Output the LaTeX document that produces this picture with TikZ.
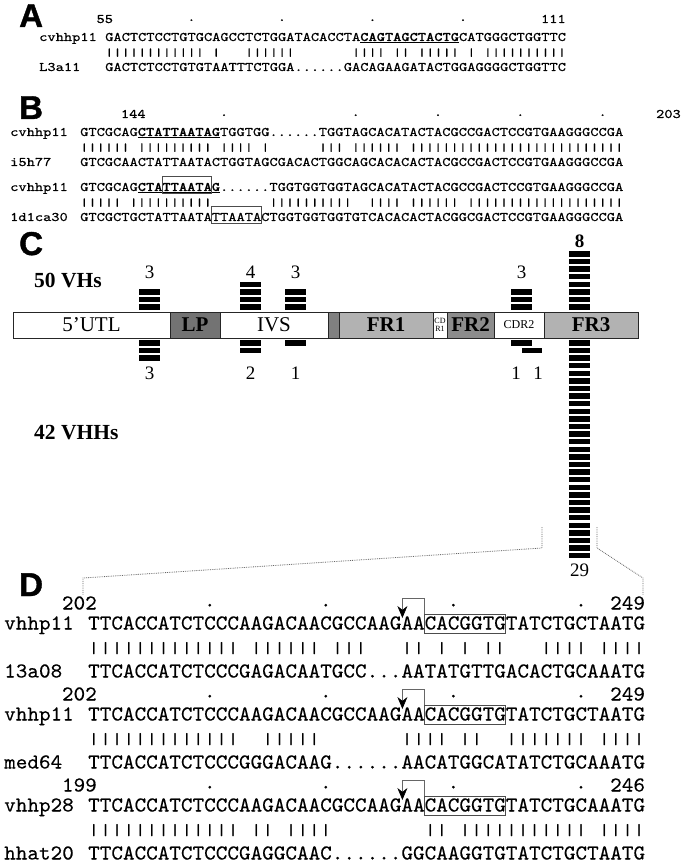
\documentclass[tikz,border=0pt]{standalone}
\usepackage{fontspec}
\setmainfont{Liberation Serif}
\newfontfamily\panelfont{Liberation Sans}[BoldFeatures={FakeBold=1.2}]
\newfontfamily\seqab{lmmono10-regular.otf}[FakeStretch=1.2,FakeBold=0.6,BoldFont=lmmonolt10-bold.otf]
\newfontfamily\barab{lmmono10-regular.otf}[FakeStretch=1.425,FakeBold=0.6]
\newfontfamily\seqd{lmmono10-regular.otf}[FakeStretch=1.04,FakeBold=0.3]
\newfontfamily\bard{lmmono10-regular.otf}[FakeStretch=1.381]
\usetikzlibrary{arrows.meta}

% bold stretch with a thick underline, same pitch as the mono text
\newcommand{\ulb}[1]{\setbox0\hbox{\bfseries #1}\rlap{\rule[-2.4pt]{\wd0}{1.2pt}}\box0}

\tikzset{
  panel/.style ={anchor=base west, inner sep=0pt, font=\panelfont\bfseries\fontsize{33}{33}\selectfont},
  nm/.style    ={anchor=base west, inner sep=0pt, font=\seqab\fontsize{13.06}{14}\selectfont},
  nmb/.style   ={anchor=base, inner sep=0pt, font=\seqab\fontsize{13.06}{14}\selectfont},
  hits/.style  ={anchor=base west, inner sep=0pt, font=\barab\fontsize{11}{12}\selectfont},
  nmD/.style   ={anchor=base west, inner sep=0pt, font=\seqd\fontsize{21.25}{22}\selectfont},
  nmbD/.style  ={anchor=base, inner sep=0pt, font=\seqd\fontsize{21.25}{22}\selectfont},
  hitsD/.style ={anchor=base west, inner sep=0pt, font=\bard\fontsize{16}{16}\selectfont},
  motif/.style ={draw=black!70, line width=0.6pt, inner sep=0pt, outer sep=0pt, anchor=north west},
  jump/.style  ={draw=black!60, line width=0.7pt, -{Stealth[length=12pt,width=10pt,black]}},
  gene/.style  ={draw=black!85, line width=0.5pt, inner sep=0pt, outer sep=0pt, anchor=north west,
                 minimum height=26, font=\fontsize{21}{21}\selectfont},
  geneb/.style ={gene, font=\bfseries\fontsize{21}{21}\selectfont},
  cnt/.style   ={inner sep=0pt, font=\fontsize{19}{19}\selectfont},
  vh/.style    ={anchor=west, inner sep=0pt, font=\bfseries\fontsize{21.5}{22}\selectfont},
  cntbar/.style={fill=black},
  brk/.style   ={draw=black!60, densely dotted, line width=0.8pt},
}

\begin{document}
\begin{tikzpicture}[x=1pt, y=-1pt]
\fill[white] (0,0) rectangle (685,866);
\useasboundingbox (0,0) rectangle (685,866);
% ---- A: leader region
\node[panel] (letA) at (19,27) {A};
\node[nmb, anchor=base east] (numA1) at (113.2,23) {55};
\foreach \c in {11,22,33,44}
  \node[nmb] (dotA\c) at ({105+(\c-0.5)*8.23},21) {.};
\node[nmb, anchor=base east] (numA2) at (565.9,23) {111};
\node[nm] (nameA1) at (39,41) {cvhhp11};
\node[nm] (seqA1) at (105,41) {GACTCTCCTGTGCAGCCTCTGGATACACCTA\ulb{CAGTAGCTACTG}CATGGGCTGGTTC};
\node[hits] (hitA) at (105,56) {||||||||||||~|~~~||||||~~~~~~~||||~||~|||||~|~||||||||||};
\node[nm] (nameA2) at (39,71) {L3a11};
\node[nm] (seqA2) at (105,71) {GACTCTCCTGTGTAATTTCTGGA......GACAGAAGATACTGGAGGGGCTGGTTC};
% ---- B: intron region
\node[panel] (letB) at (19,119) {B};
\node[nmb, anchor=base east] (numB1) at (145.8,118) {144};
\foreach \c in {18,34,44,54,64}
  \node[nmb] (dotB\c) at ({80+(\c-0.5)*8.23},116) {.};
\node[nmb, anchor=base east] (numB2) at (681,118) {203};
\node[nm] (nameB1) at (10,136) {cvhhp11};
\node[nm] (seqB1) at (80,136) {GTCGCAG\ulb{CTATTAATAG}TGGTGG......TGGTAGCACATACTACGCCGACTCCGTGAAGGGCCGA};
\node[hits] (hitB1) at (80,151) {||||||~|||||||||~||||~|~~~~~~|||~||||||~||||||||||||||||||||||||||};
\node[nm] (nameB2) at (10,166) {i5h77};
\node[nm] (seqB2) at (80,166) {GTCGCAACTATTAATACTGGTAGCGACACTGGCAGCACACACTACGCCGACTCCGTGAAGGGCCGA};
\node[nm] (nameB3) at (10,191) {cvhhp11};
\node[nm] (seqB3) at (80,191) {GTCGCAG\ulb{CTATTAATAG}......TGGTGGTGGTAGCACATACTACGCCGACTCCGTGAAGGGCCGA};
\node[hits] (hitB2) at (80,206) {|||||~||||||||||~~~~~~~||||||||||~~||||~||||||~|||||||||||||||||||};
\node[nm] (nameB4) at (10,221) {1d1ca30};
\node[nm] (seqB4) at (80,221) {GTCGCTGCTATTAATATTAATACTGGTGGTGGTGTCACACACTACGGCGACTCCGTGAAGGGCCGA};
\node[motif, minimum width=49.4, minimum height=17] (boxB1) at (162.3,176) {};
\node[motif, minimum width=49.4, minimum height=17] (boxB2) at (211.7,206) {};
% ---- C: gene map + hit counts
\node[panel] (letC) at (19,255) {C};
\node[vh] (vhs) at (34,281) {50 VHs};
\node[vh] (vhhs) at (34,433) {42 VHHs};
\node[gene, fill=white, minimum width=157] (utl) at (13,312) {5'UTL};
\node[geneb, fill=black!55, minimum width=50] (lp) at (170,312) {LP};
\node[gene, fill=white, minimum width=108] (ivs) at (220,312) {IVS\hspace{14pt}};
\node[gene, fill=black!50, minimum width=11] (link) at (328,312) {};
\node[geneb, fill=black!30, minimum width=94] (fr1) at (339,312) {FR1};
\node[gene, fill=white, minimum width=14, align=center, font=\fontsize{8}{8}\selectfont] (cdr1) at (433,312) {CD\\R1};
\node[geneb, fill=black!45, minimum width=47] (fr2) at (447,312) {FR2};
\node[gene, fill=white, minimum width=50, font=\fontsize{12}{12}\selectfont] (cdr2) at (494,312) {CDR2};
\node[geneb, fill=black!30, minimum width=94] (fr3) at (544,312) {FR3};
% VH hits above, VHH hits below
\foreach \x/\n in {139/3,240/4,285/3,511/3,569/8}
  \foreach \k in {1,...,\n}
    \fill[cntbar] (\x,{312-\k*7.6}) rectangle ++(21,5.4);
\foreach \x/\n in {139/3,240/2,285/1,511/1,569/29}
  \foreach \k in {1,...,\n}
    \fill[cntbar] (\x,{338+\k*7.6-5.4}) rectangle ++(21,5.4);
\fill[cntbar] (522,{338+2*7.6-5.4}) rectangle ++(20,5.4);
\node[cnt] (up1) at (149.5,272) {3};
\node[cnt] (up2) at (250.5,272) {4};
\node[cnt] (up3) at (295.5,272) {3};
\node[cnt] (up4) at (521.5,272) {3};
\node[cnt, font=\bfseries\fontsize{19}{19}\selectfont] (up5) at (579.5,241) {8};
\node[cnt] (dn1) at (149.5,373) {3};
\node[cnt] (dn2) at (250.5,373) {2};
\node[cnt] (dn3) at (295.5,373) {1};
\node[cnt] (dn4) at (516,373) {1};
\node[cnt] (dn5) at (538,373) {1};
\node[cnt] (dn6) at (579.5,570) {29};
% zoom bracket into D
\coordinate (bL0) at (542,527);
\coordinate (bL1) at (542,548);
\coordinate (bL2) at (83,578);
\coordinate (bL3) at (83,595);
\coordinate (bR0) at (597,527);
\coordinate (bR1) at (597,548);
\coordinate (bR2) at (643,578);
\coordinate (bR3) at (643,595);
\draw[brk] (bL0) -- (bL1) -- (bL2) -- (bL3);
\draw[brk] (bR0) -- (bR1) -- (bR2) -- (bR3);
% ---- D: FR3 region
\node[panel] (letD) at (19,596) {D};
% vhhp11 / 13a08
\node[nmbD, anchor=base east] (numD1) at (97,609.5) {202};
\foreach \c in {11,21,32,43}
  \node[nmbD] (dotD1\c) at ({88+(\c-0.5)*11.6},606.5) {.};
\node[nmbD, anchor=base east] (numD2) at (645.2,609.5) {249};
\node[nmD] (nameD1) at (4,629.5) {vhhp11};
\node[nmD] (seqD1) at (88,629.5) {TTCACCATCTCCCAAGACAACGCCAAGAACACGGTGTATCTGCTAATG};
\node[hitsD] (hitD1) at (88,653.5) {|||||||||||||~||||||~|||~~~||~|~|~||~~~||||~||||};
\node[nmD] (nameD2) at (4,677.5) {13a08};
\node[nmD] (seqD2) at (88,677.5) {TTCACCATCTCCCGAGACAATGCC...AATATGTTGACACTGCAAATG};
\node[motif, minimum width=81.2, minimum height=19] (boxD1) at (424.4,614) {};
\coordinate (kinkD1) at (402.4,598);
\coordinate (tipD1) at (402.4,618);
\draw[jump] (boxD1.north west) |- (kinkD1) -- (tipD1);
% vhhp11 / med64
\node[nmbD, anchor=base east] (numD3) at (97,700.5) {202};
\foreach \c in {11,21,32,43}
  \node[nmbD] (dotD2\c) at ({88+(\c-0.5)*11.6},697.5) {.};
\node[nmbD, anchor=base east] (numD4) at (645.2,700.5) {249};
\node[nmD] (nameD3) at (4,720.5) {vhhp11};
\node[nmD] (seqD3) at (88,720.5) {TTCACCATCTCCCAAGACAACGCCAAGAACACGGTGTATCTGCTAATG};
\node[hitsD] (hitD2) at (88,744.5) {|||||||||||||~~|||||~~~~~~~||||~||~~|||||||~||||};
\node[nmD] (nameD4) at (4,768.5) {med64};
\node[nmD] (seqD4) at (88,768.5) {TTCACCATCTCCCGGGACAAG......AACATGGCATATCTGCAAATG};
\node[motif, minimum width=81.2, minimum height=19] (boxD2) at (424.4,705) {};
\coordinate (kinkD2) at (402.4,689);
\coordinate (tipD2) at (402.4,709);
\draw[jump] (boxD2.north west) |- (kinkD2) -- (tipD2);
% vhhp28 / hhat20
\node[nmbD, anchor=base east] (numD5) at (97,791.5) {199};
\foreach \c in {11,21,32,43}
  \node[nmbD] (dotD3\c) at ({88+(\c-0.5)*11.6},788.5) {.};
\node[nmbD, anchor=base east] (numD6) at (645.2,791.5) {246};
\node[nmD] (nameD5) at (4,811.5) {vhhp28};
\node[nmD] (seqD5) at (88,811.5) {TTCACCATCTCCCAAGACAACGCCAAGAACACGGTGTATCTGCAAATG};
\node[hitsD] (hitD3) at (88,835.5) {|||||||||||||~||~||||~~~~~~~~||~|||||||||||~||||};
\node[nmD] (nameD6) at (4,859.5) {hhat20};
\node[nmD] (seqD6) at (88,859.5) {TTCACCATCTCCCGAGGCAAC......GGCAAGGTGTATCTGCTAATG};
\node[motif, minimum width=81.2, minimum height=19] (boxD3) at (424.4,796) {};
\coordinate (kinkD3) at (402.4,780);
\coordinate (tipD3) at (402.4,800);
\draw[jump] (boxD3.north west) |- (kinkD3) -- (tipD3);
\end{tikzpicture}
\end{document}
